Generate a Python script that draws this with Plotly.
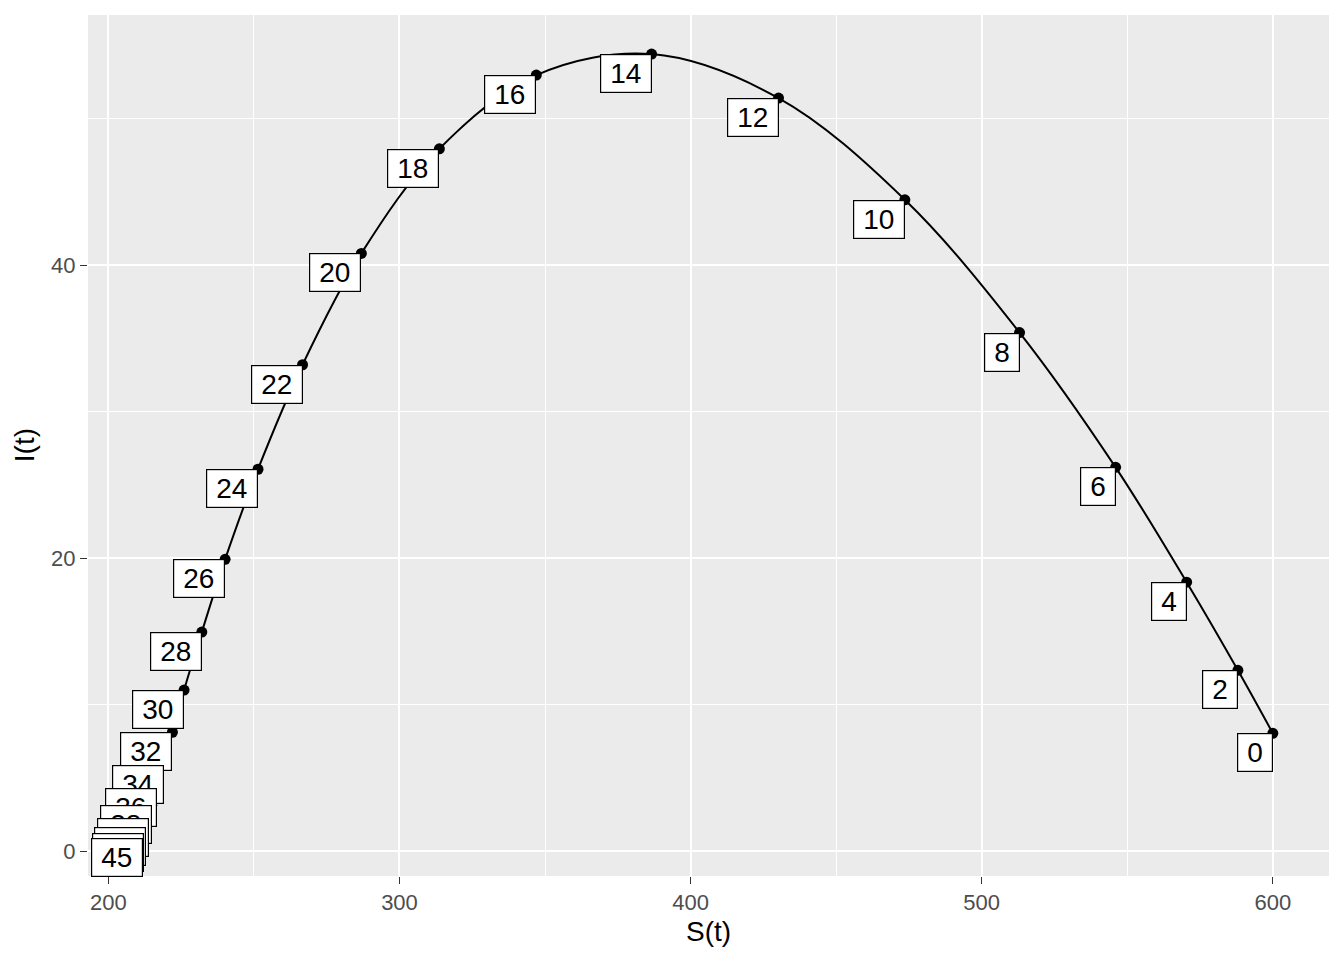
import plotly.graph_objects as go

# SIR phase plot: susceptible vs infected, labelled by day
days = [0, 2, 4, 6, 8, 10, 12, 14, 16, 18, 20, 22, 24, 26, 28, 30, 32, 34, 36, 38, 40, 42, 44, 45]
S = [600.0, 588.0, 570.4, 546.0, 513.0, 473.6, 430.2, 386.6, 347.0, 313.7, 286.9, 266.7,
     251.4, 240.1, 232.1, 226.0, 222.0, 219.0, 216.6, 214.9, 213.8, 213.0, 212.4, 211.9]
I = [8.05, 12.35, 18.36, 26.2, 35.4, 44.46, 51.4, 54.4, 52.97, 47.94, 40.8, 33.2,
     26.07, 19.92, 14.96, 11.0, 8.12, 5.9, 4.3, 3.14, 2.3, 1.64, 1.22, 0.9]

x_ticks = [200, 300, 400, 500, 600]
y_ticks = [0, 20, 40]

FONT = "Liberation Sans, Arial, Helvetica, sans-serif"

fig = go.Figure()
fig.add_trace(go.Scatter(x=S, y=I, mode="lines", line=dict(color="black", width=2, shape="spline"),
                         hoverinfo="skip", showlegend=False))
fig.add_trace(go.Scatter(x=S, y=I, mode="markers", marker=dict(color="black", size=11),
                         showlegend=False))

# labels: top-right corner of the box sits on the point
for d, sx, iy in zip(days, S, I):
    txt = str(d)
    fig.add_annotation(x=sx, y=iy, xref="x", yref="y", text=txt, showarrow=False,
                       xanchor="right", yanchor="top",
                       font=dict(family=FONT, size=28, color="black"),
                       bgcolor="white", bordercolor="black", borderwidth=1.2,
                       borderpad=0, width=15.6 * len(txt) + 18, height=37)

# axis titles
fig.add_annotation(x=0.5, y=-0.065, xref="paper", yref="paper", text="S(t)", showarrow=False,
                   xanchor="center", yanchor="middle", font=dict(family=FONT, size=28, color="black"))
fig.add_annotation(x=-0.051, y=0.5, xref="paper", yref="paper", text="I(t)", showarrow=False,
                   textangle=-90, xanchor="center", yanchor="middle",
                   font=dict(family=FONT, size=28, color="black"))

axis_common = dict(
    showgrid=True, gridcolor="white", gridwidth=2.4,
    zeroline=False, showline=False,
    ticks="outside", ticklen=7, tickwidth=1.4, tickcolor="#333333",
    tickfont=dict(family=FONT, size=22, color="#4D4D4D"),
    minor=dict(showgrid=True, gridcolor="white", gridwidth=1.2, ticks=""),
)

fig.update_xaxes(range=[193.0, 619.3], tickvals=x_ticks, ticktext=[str(v) for v in x_ticks],
                 minor_tickvals=[250, 350, 450, 550], **axis_common)
fig.update_yaxes(range=[-1.69, 57.07], tickvals=y_ticks, ticktext=[str(v) for v in y_ticks],
                 minor_tickvals=[10, 30, 50], **axis_common)

# page adds an 8px body margin, so the figure is drawn 8px smaller and shifted
fig.update_layout(
    width=1336, height=952,
    margin=dict(l=80, r=15, t=7, b=84),
    plot_bgcolor="#EBEBEB", paper_bgcolor="white",
    showlegend=False,
)

fig.write_html("out.html")
